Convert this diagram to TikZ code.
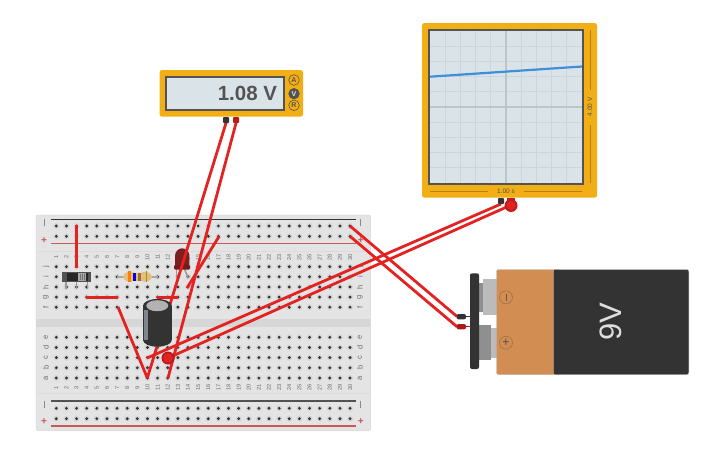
\documentclass[tikz,border=0pt]{standalone}
\usepackage{fontspec}
\setmainfont{Liberation Sans}
\usetikzlibrary{calc}
\definecolor{boardc}{HTML}{E4E4E4}
\definecolor{channelc}{HTML}{D6D6D6}
\definecolor{holec}{HTML}{333333}
\definecolor{halo}{HTML}{D6D6D6}
\definecolor{wirec}{HTML}{E32222}
\definecolor{railred}{HTML}{C8585A}
\definecolor{amber}{HTML}{F2AE15}
\definecolor{lcd}{HTML}{DAE4E8}
\definecolor{bezel}{HTML}{535353}
\definecolor{gridc}{HTML}{CBD6D9}
\definecolor{gridm}{HTML}{BCC6C7}
\definecolor{tracec}{HTML}{3D8EDB}
\definecolor{copperc}{HTML}{D28E52}
\definecolor{batdark}{HTML}{333333}
\definecolor{labelc}{HTML}{6A6A6A}
\definecolor{ledc}{HTML}{7E1F1F}
\definecolor{tanbody}{HTML}{E3BE82}
\definecolor{termdark}{HTML}{8F8F8F}
\definecolor{termlight}{HTML}{BBBBBB}
\definecolor{capshine}{HTML}{7F868C}
\tikzset{
  wire/.style={draw=wirec,line width=2.8pt},
  railblack/.style={draw=holec,line width=1.1pt},
  railredl/.style={draw=railred,line width=1.4pt},
  collabel/.style={font=\fontsize{5.6}{5.6}\selectfont,text=labelc,rotate=90,inner sep=0pt},
  rowlabel/.style={font=\fontsize{7.5}{7.5}\selectfont,text=labelc,rotate=90,inner sep=0pt},
  raillabel/.style={font=\fontsize{10}{10}\selectfont,inner sep=0pt},
  scalelabel/.style={font=\fontsize{6.5}{6.5}\selectfont,text=bezel,inner sep=0pt},
  scaleline/.style={draw=amber!75!black,line width=0.5pt},
  probeblack/.style={fill=holec,draw=none,rounded corners=0.8pt},
  probered/.style={fill=wirec!80!black,draw=none,rounded corners=0.8pt},
  meterbtn/.style={circle,draw=bezel,line width=0.6pt,minimum size=10.6pt,inner sep=0pt,font=\fontsize{7}{7}\selectfont\bfseries,text=bezel},
  gridline/.style={draw=gridc,line width=1.2pt},
  pinleg/.style={draw=gray!80,line width=1.5pt},
}
\newcommand{\holeat}[2]{\fill[halo] (#1,#2) circle (3);\fill[holec] (#1,#2) circle (1.6);}
\begin{document}
\begin{tikzpicture}[x=1pt,y=-1pt]
\useasboundingbox (0,0) rectangle (725,453);
\fill[white] (0,0) rectangle (725,453);
% ---- breadboard
\fill[boardc,draw=channelc,line width=0.5pt,rounded corners=2pt] (36,215) rectangle (370.5,430.5);
\fill[channelc] (36.3,318.5) rectangle (370.2,327);
\fill[boardc!96!black] (36.3,251) rectangle (370.2,252);
\fill[boardc!96!black] (36.3,393) rectangle (370.2,394);
\draw[railblack] (51,219.3) -- (355.7,219.3);
\draw[railredl] (51,243.3) -- (355.7,243.3);
\draw[railblack,draw=holec!85] (51,401) -- (355.7,401);
\draw[railredl,line width=1.7pt] (51,426) -- (355.7,426);
\foreach \x in {44,360.7}{
  \foreach \y in {222.7,404}{
    \draw[draw=labelc!80,line width=0.9pt] (\x,\y-3.5) -- (\x,\y+3.5);
  }
  \foreach \y in {240.7,421.7}{
    \node[raillabel,text=railred] at (\x,\y) {\bfseries +};
  }
}
% holes: terminal strips
\foreach \c in {1,...,30}{
  \pgfmathsetmacro{\hx}{56.3+(\c-1)*10.13}
  \foreach \hy in {266.7,276.8,287,297.1,307.2,337.3,347.5,357.6,367.8,378}{\holeat{\hx}{\hy}}
  \node[collabel] at (\hx,257) {\c};
  \node[collabel] at (\hx,387.5) {\c};
}
% holes: power rails
\foreach \c in {0,...,29}{
  \pgfmathsetmacro{\hx}{56.3+\c*10.13}
  \foreach \hy in {226,236.3,408.3,418.7}{\holeat{\hx}{\hy}}
}
\foreach \y/\t in {266.7/j,276.8/i,287/h,297.1/g,307.2/f,337.3/e,347.5/d,357.6/c,367.8/b,378/a}{
  \node[rowlabel] at (46,\y) {\t};
  \node[rowlabel] at (360,\y) {\t};
}
% ---- anchors on the board
\coordinate (c3top) at (76.4,225);
\coordinate (c3j) at (76.4,268);
\coordinate (g3) at (86,297.3);
\coordinate (g7) at (118,297.3);
\coordinate (g11) at (156.7,297.3);
\coordinate (g13) at (178.3,297.3);
\coordinate (f7) at (118,307);
\coordinate (a10) at (147.3,378);
\coordinate (a12) at (168,378);
\coordinate (c10) at (147,358);
\coordinate (c12) at (168,358);
\coordinate (r17) at (219,236.5);
\coordinate (h14) at (187,288);
\coordinate (t30) at (350,226);
\coordinate (b30) at (350,236.3);
% ---- switch
\foreach \x in {66,76.7,87.3}{\draw[pinleg] (\x,280) -- (\x,288.7);}
\fill[fill=bezel] (62.3,272) rectangle (90.7,282);
\fill[black!85] (67.3,273) rectangle (88,281);
\fill[gray!70] (78.3,273.4) rectangle (85.7,280.6);
\foreach \x in {79.8,81.8,83.8}{\draw[black!55,line width=0.4pt] (\x,273.6) -- (\x,280.4);}
% ---- resistor
\draw[gray!70,line width=1.6pt] (116.7,276.8) -- (158,276.8);
\fill[fill=tanbody] (123,276.8) .. controls (124,272) and (130,270.5) .. (134,272.8) -- (141,272.8) .. controls (145,270.5) and (151,272) .. (152,276.8) .. controls (151,281.6) and (145,283) .. (141,280.8) -- (134,280.8) .. controls (130,283) and (124,281.6) .. (123,276.8) -- cycle;
\fill[fill=orange] (127.7,271.4) rectangle (131,282.2);
\fill[fill=blue!90!black] (132.7,272.8) rectangle (136,280.8);
\fill[fill=brown!85!black] (137.7,272.8) rectangle (141,280.8);
\fill[fill=olive!85!yellow] (145.7,271.4) rectangle (147,282.2);
% ---- LED
\draw[pinleg] (176.7,268) -- (176.7,278);
\draw[pinleg] (184,268) -- (188.3,278);
\fill[ledc] (175,267) -- (175,256) arc[start angle=180,end angle=360,x radius=7.2,y radius=7.7] -- (189.4,267) -- cycle;
\fill[ledc!90!black,rounded corners=1.2pt] (174,265) rectangle (190,269.5);
% ---- wires below the capacitor
\draw[wire] (c3top) -- (c3j);
\draw[wire] (g3) -- (g7);
\draw[wire] (g11) -- (g13);
\coordinate (vmneg) at (226.3,122);
\coordinate (vmpos) at (236.3,122);
\draw[wire] (f7) -- (a10);
\draw[wire] (vmneg) -- (a10);
\draw[wire] (r17) -- (h14);
% ---- capacitor
\fill[holec] (143,305.7) -- (143,340) arc[start angle=180,end angle=0,x radius=14.4,y radius=6.7] -- (171.8,305.7) arc[start angle=360,end angle=180,x radius=14.4,y radius=6.7] -- cycle;
\fill[fill=capshine] (144,310) rectangle (147.7,340);
\fill[gray!60] (157.3,305.7) ellipse[x radius=11,y radius=5.5];
% ---- wires above the capacitor
\draw[wire] (vmpos) -- (a12);
\coordinate (scneg) at (501,204);
\coordinate (scpos) at (510,205.5);
\draw[wire] (c10) -- (scneg);
\draw[wire] (c12) -- (scpos);
\fill[wirec!80!black] (c12) circle (6.5);
\fill[wirec] (c12) circle (4.8);
% ---- voltmeter
\fill[amber,rounded corners=2.5pt] (159.5,70) rectangle (303,116.7);
\fill[lcd,draw=bezel,line width=2pt] (165.7,76.5) rectangle (284.3,110.3);
\node[font=\fontsize{20.5}{20.5}\selectfont\bfseries,text=bezel,anchor=east,inner sep=0pt] (vread) at (277.3,93.5) {1.08 V};
\node[meterbtn] (ba) at (294,80) {A};
\node[meterbtn,fill=bezel,text=lcd] (bv) at (294,93.7) {V};
\node[meterbtn] (br) at (294,105.3) {R};
\fill[probeblack] (223,117) rectangle (229,123);
\fill[probered] (233,117) rectangle (239,123);
% ---- oscilloscope
\fill[amber,rounded corners=2.5pt] (422,23) rectangle (597,197.7);
\fill[lcd] (428.3,29.3) rectangle (583.3,184.3);
\foreach \i in {-4,-3,-2,-1,1,2,3,4}{
  \draw[gridline] (506+15.2*\i,30) -- (506+15.2*\i,184);
  \draw[gridline] (429,107+15.2*\i) -- (583,107+15.2*\i);
}
\draw[gridm,line width=1.4pt] (506,30) -- (506,184);
\draw[gridm,line width=1.4pt] (429,107) -- (583,107);
\draw[tracec,line width=2.2pt] (430,76.7) -- (582,66.5);
\draw[bezel,line width=2pt] (429,30) rectangle (583,184);
\node[scalelabel] (xl) at (506,191) {1.00 s};
\draw[scaleline] (430,191) -- (488,191);
\draw[scaleline] (524,191) -- (582,191);
\node[scalelabel,rotate=90] (yl) at (590,107) {4.00 V};
\draw[scaleline] (590,30) -- (590,90);
\draw[scaleline] (590,125) -- (590,183);
\fill[probeblack] (498,198) rectangle (504,204);
\fill[wirec!85!black] (507,198) rectangle (515,203);
\fill[wirec!85!black] (511,205.5) circle (6.5);
\fill[wirec] (511,205.5) circle (4.5);
% ---- battery
\coordinate (batneg) at (457,316.5);
\coordinate (batpos) at (457,326.7);
\draw[wire] (t30) -- (batneg);
\draw[wire] (b30) -- (batpos);
\fill[termdark] (479,283) rectangle (484,312);
\fill[termlight] (483,279) rectangle (497,315);
\fill[termlight] (485,328) rectangle (497,358);
\fill[termdark] (479,325) rectangle (490.5,360);
\fill[batdark,rounded corners=2pt] (470,273.3) rectangle (479,369);
\fill[holec,rounded corners=2pt] (456.7,314) rectangle (466,319.4);
\draw[holec,line width=1pt] (465,316.7) -- (471,316.7);
\fill[wirec!75!black,rounded corners=2pt] (456.7,324) rectangle (466,329.4);
\draw[wirec!75!black,line width=1pt] (465,326.7) -- (471,326.7);
\fill[copperc,draw=gray!60,line width=0.4pt,rounded corners=2pt] (496.5,269.5) rectangle (560,374.5);
\fill[batdark,draw=gray!60,line width=0.4pt,rounded corners=2pt] (553.5,269.5) rectangle (688.8,374.5);
\fill[batdark] (553.5,269.8) rectangle (560,374.2);
\draw[copperc!78!black,line width=0.6pt] (506,297.3) circle (6.5);
\draw[copperc!78!black,line width=0.6pt] (506,342.7) circle (6.5);
\draw[holec!80,line width=1pt] (506,293.5) -- (506,301.1);
\node[font=\fontsize{13}{13}\selectfont,text=holec!85,inner sep=0pt] (plus) at (506,342.7) {+};
\node[font=\fontsize{31}{31}\selectfont,text=gray!25,rotate=90,inner sep=0pt] (nine) at (611,322) {9V};
\end{tikzpicture}
\end{document}
